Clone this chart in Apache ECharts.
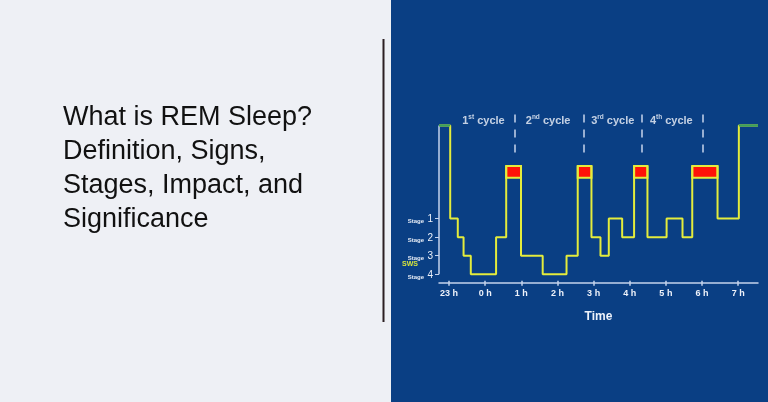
<!DOCTYPE html>
<html><head><meta charset="utf-8">
<script src="https://cdn.jsdelivr.net/npm/echarts@6/dist/echarts.min.js"></script>
<style>html,body{margin:0;padding:0;background:#eef0f5}#c{width:768px;height:402px}</style>
</head><body><div id="c"></div>
<script>
// ---- data ----
const titleLines = ['What is REM Sleep?', 'Definition, Signs,', 'Stages, Impact, and', 'Significance'];
const hourTicks = [0, 1, 2, 3, 4, 5, 6, 7, 8];            // hours after 23 h
const hourLabels = ['23 h', '0 h', '1 h', '2 h', '3 h', '4 h', '5 h', '6 h', '7 h'];
const stageTicks = [0, 1, 2, 3];
const stageNumbers = ['4', '3', '2', '1'];
// hypnogram: start time of each episode (hours after 23 h) and its stage
const segStart = [-0.28, 0.03, 0.24, 0.40, 0.60, 1.30, 1.58, 1.99, 2.59, 3.25, 3.56, 3.94, 4.19, 4.42, 4.79, 5.12, 5.49, 6.02, 6.46, 6.73, 7.43, 8.02];
const segStage = ['W', '1', '2', '3', '4', '2', 'R', '3', '4', '3', 'R', '2', '3', '1', '2', 'R', '2', '1', '2', 'R', '1', 'W'];
const recordEnd = 8.55;
const stageLevel = { '4': 0, '3': 1, '2': 2, '1': 3, 'R': 5.83, 'W': 8 };
const remBottom = 5.2;
const cycleOrd = [['1', 'st'], ['2', 'nd'], ['3', 'rd'], ['4', 'th']];
const cycleLabelAt = [0.95, 2.74, 4.53, 6.15];
const cycleLabelLevel = 8.25;
const cycleBounds = [1.82, 3.73, 5.32, 7.02];
const cycleMarkTop = 8.6, cycleMarkBottom = 6.55;

// ---- derived ----
const segEnd = segStart.map((s, i) => i + 1 < segStart.length ? segStart[i + 1] : recordEnd);
const hyp = segStart.map((s, i) => [s, stageLevel[segStage[i]]]);
hyp.push([recordEnd, stageLevel[segStage[segStage.length - 1]]]);
const remAreas = [];
const wakeSeries = [];
segStage.forEach((st, i) => {
  if (st === 'R') remAreas.push([{ coord: [segStart[i], remBottom] }, { coord: [segEnd[i], stageLevel.R] }]);
  if (st === 'W') wakeSeries.push({
    type: 'line', data: [[segStart[i], stageLevel.W], [segEnd[i], stageLevel.W]],
    symbol: 'none', lineStyle: { color: '#3aa35a', width: 2 }, z: 5, silent: true
  });
});

const yellow = '#e4ec3c';
const axisCol = '#c5d3ec';
const font = '"Liberation Sans", Arial, sans-serif';
const gridTop = 107, gridBottom = 119.3, gridH = 402 - gridTop - gridBottom;

const chart = echarts.init(document.getElementById('c'), null, { renderer: 'canvas' });
chart.setOption({
  animation: false,
  backgroundColor: '#eef0f5',
  title: {
    text: titleLines.join('\n'), left: 63, top: 101, padding: 0,
    textStyle: { fontFamily: font, fontSize: 27, fontWeight: 'normal', color: '#111111', lineHeight: 34 }
  },
  graphic: [
    { type: 'rect', shape: { x: 391, y: 0, width: 377, height: 402 }, style: { fill: '#0a3f84' }, z: -10 },
    { type: 'rect', shape: { x: 382.5, y: 39, width: 2, height: 283 }, style: { fill: '#2b1f22' }, z: -10 },
    { type: 'text', x: 402, y: 264, style: { text: 'SWS', fill: '#d8e63c', font: 'bold 7px ' + font, textVerticalAlign: 'middle' } }
  ],
  grid: { left: 439, right: 10, top: gridTop, bottom: gridBottom },
  xAxis: [{
    type: 'value', min: segStart[0], max: recordEnd,
    splitLine: { show: false },
    axisLine: { show: true, onZero: false, lineStyle: { color: axisCol, width: 1.5 } },
    axisTick: { show: true, customValues: hourTicks, length: 3, lineStyle: { color: axisCol, width: 1.5 } },
    axisLabel: {
      customValues: hourTicks, margin: 6, color: '#eef2fa', fontFamily: font, fontSize: 9, fontWeight: 'bold',
      formatter: v => hourLabels[hourTicks.indexOf(Math.round(v))]
    },
    name: 'Time', nameLocation: 'middle', nameGap: 28,
    nameTextStyle: { color: '#eef2fa', fontFamily: font, fontSize: 12, fontWeight: 'bold' }
  }, {
    type: 'value', min: segStart[0], max: recordEnd, position: 'top', offset: -gridH,
    splitLine: { show: false }, axisLine: { show: false, onZero: false }, axisLabel: { show: false },
    axisTick: { show: true, customValues: hourTicks, length: 2, lineStyle: { color: axisCol, width: 1.5 } }
  }],
  yAxis: {
    type: 'value', min: -0.45, max: 9,
    splitLine: { show: false },
    axisLine: { show: false, onZero: false },
    axisTick: { show: true, customValues: stageTicks, length: 4, lineStyle: { color: axisCol, width: 1 } },
    axisLabel: {
      customValues: stageTicks, margin: 6, color: '#eef2fa', fontFamily: font,
      formatter: v => '{s|Stage} {n|' + stageNumbers[Math.round(v)] + '}',
      rich: {
        s: { fontSize: 6, fontWeight: 'bold', color: '#e6ecf6', fontFamily: font, verticalAlign: 'bottom', lineHeight: 11 },
        n: { fontSize: 10, color: '#eef2fa', fontFamily: font, verticalAlign: 'bottom', lineHeight: 11 }
      }
    }
  },
  series: [
    {
      type: 'line', data: [[segStart[0], stageLevel['4']], [segStart[0], stageLevel.W]],
      symbol: 'none', lineStyle: { color: axisCol, width: 1.5 }, z: 2, silent: true
    },
    {
      type: 'line', step: 'end', data: hyp, symbol: 'none',
      lineStyle: { color: yellow, width: 2 }, z: 4, silent: true,
      markArea: {
        silent: true,
        itemStyle: { color: '#ff1208', borderColor: yellow, borderWidth: 2, opacity: 1 },
        data: remAreas
      }
    },
    ...wakeSeries,
    {
      type: 'scatter', symbolSize: 0, silent: true, z: 6,
      data: cycleLabelAt.map((x, i) => ({
        value: [x, cycleLabelLevel],
        label: {
          show: true, position: 'inside',
          formatter: '{n|' + cycleOrd[i][0] + '}{sup|' + cycleOrd[i][1] + '}{t| cycle}',
          rich: {
            n: { fontSize: 11, fontWeight: 'bold', color: '#f2f5fb', fontFamily: font, lineHeight: 14 },
            sup: { fontSize: 6.5, fontWeight: 'bold', color: '#f2f5fb', fontFamily: font, verticalAlign: 'top', lineHeight: 14 },
            t: { fontSize: 11, fontWeight: 'bold', color: '#f2f5fb', fontFamily: font, lineHeight: 14 }
          }
        }
      })),
      markLine: {
        silent: true, symbol: 'none', label: { show: false },
        lineStyle: { color: '#c8d5ec', width: 1.5, type: [8, 7] },
        data: cycleBounds.map(b => [{ coord: [b, cycleMarkTop] }, { coord: [b, cycleMarkBottom] }])
      }
    }
  ]
});
</script>
</body></html>
